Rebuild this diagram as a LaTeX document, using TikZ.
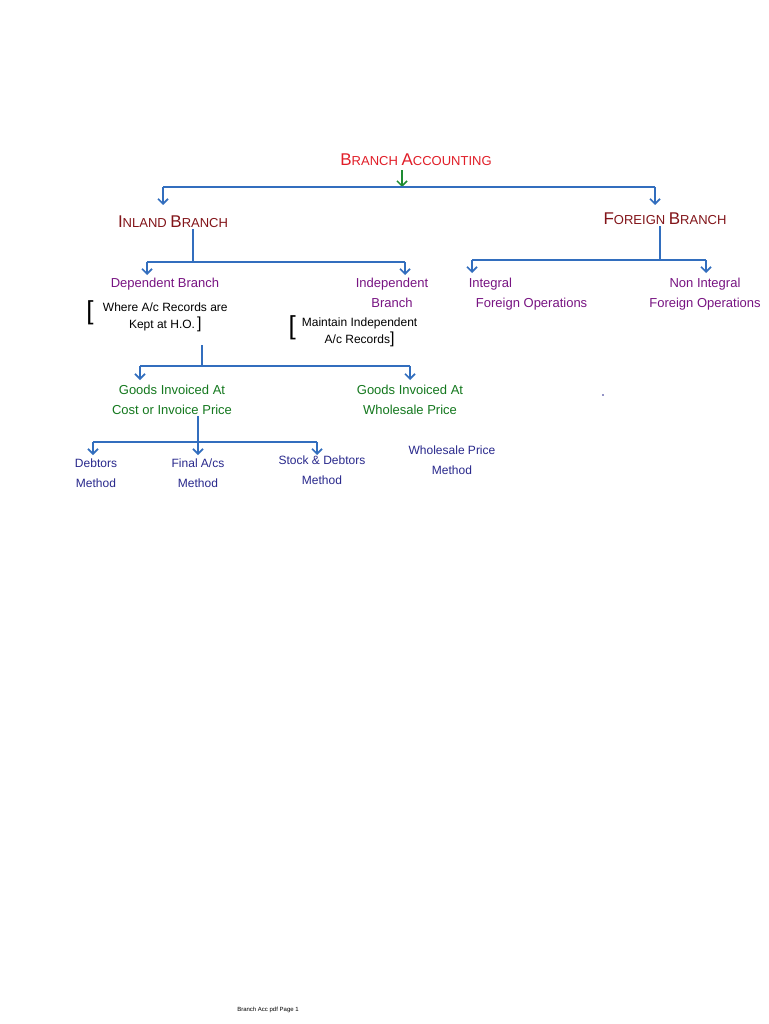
\documentclass[tikz,border=0pt]{standalone}
\usepackage{fontspec}
\setmainfont{Liberation Sans}
\usetikzlibrary{arrows.meta}
\newcommand{\mysc}[2]{{\fontsize{17}{18}\selectfont #1}{\fontsize{13}{15}\selectfont #2}}
\begin{document}
\begin{tikzpicture}[x=1pt,y=-1pt,
  txt/.style={align=center,font=\fontsize{13}{20}\selectfont,inner sep=1pt},
  small/.style={txt,font=\fontsize{12}{20}\selectfont},
  conn/.style={draw={rgb,255:red,50;green,110;blue,190},line width=1.7pt},
  arr/.style={conn,-{Straight Barb[length=5pt,width=10pt]}}]
\definecolor{cred}{RGB}{225,30,40}
\definecolor{dred}{RGB}{130,20,25}
\definecolor{purp}{RGB}{120,20,130}
\definecolor{grn}{RGB}{20,120,30}
\definecolor{navy}{RGB}{40,40,140}
\useasboundingbox (0,0) rectangle (768,1024);
\fill[white] (0,0) rectangle (768,1024);
% nodes
\node[txt,text=cred] (ba) at (416,160) {\mysc{B}{RANCH} \mysc{A}{CCOUNTING}};
\node[txt,text=dred] (ib) at (173,222) {\mysc{I}{NLAND} \mysc{B}{RANCH}};
\node[txt,text=dred] (fb) at (665,219) {\mysc{F}{OREIGN} \mysc{B}{RANCH}};
\node[txt,text=purp] (db) at (165,284) {Dependent Branch};
\node[small,text=black] (dbn) at (160,316) {{\fontsize{26}{26}\selectfont[}\ \begin{tabular}{c}Where A/c Records are\\[-3pt] Kept at H.O.\,{\fontsize{16}{16}\selectfont]}\end{tabular}};
\node[txt,text=purp] (idb) at (392,293) {Independent\\ Branch};
\node[small,text=black] (idbn) at (356,331) {{\fontsize{26}{26}\selectfont[}\begin{tabular}{c}Maintain Independent\\[-3pt] A/c Records{\fontsize{16}{16}\selectfont]}\end{tabular}};
\node[txt,text=purp,align=left] (ifo) at (528,294) {Integral\\ \ \ Foreign Operations};
\node[txt,text=purp] (nifo) at (705,294) {Non Integral\\ Foreign Operations};
\node[txt,text=grn] (gc) at (172,400) {Goods Invoiced At\\ Cost or Invoice Price};
\node[txt,text=grn] (gw) at (410,400) {Goods Invoiced At\\ Wholesale Price};
\node[small,text=navy] (dm) at (96,473) {Debtors\\ Method};
\node[small,text=navy] (fm) at (198,473) {Final A/cs\\ Method};
\node[small,text=navy] (sm) at (322,470) {Stock \& Debtors\\ Method};
\node[small,text=navy] (wm) at (452,460) {Wholesale Price\\ Method};
\node[font=\fontsize{6}{7}\selectfont] (foot) at (268,1010) {Branch Acc pdf Page 1};
\fill[navy] (603,395) circle (0.8);
% junction coordinates
\coordinate (j0l) at (163,187); \coordinate (j0r) at (655,187);
\coordinate (j1) at (193,248); \coordinate (j1l) at (147,262); \coordinate (j1r) at (405,262);
\coordinate (j2) at (660,245); \coordinate (j2l) at (472,260); \coordinate (j2r) at (706,260);
\coordinate (j3) at (202,345); \coordinate (j3l) at (140,366); \coordinate (j3r) at (410,366);
\coordinate (j4) at (198,428); \coordinate (j4l) at (93,442); \coordinate (j4r) at (317,442);
% connectors
\draw[draw={rgb,255:red,30;green,140;blue,50},line width=1.5pt,-{Straight Barb[length=5pt,width=10pt]}] (ba.south) ++(-14,3) coordinate (g0) -- (g0 |- j0l);
\draw[conn] (j0l) -- (j0r);
\draw[arr] (j0l) -- ++(0,18);
\draw[arr] (j0r) -- ++(0,18);
\draw[conn] (j1 |- ib.south) -- (j1 |- j1l);
\draw[conn] (j1l) -- (j1r);
\draw[arr] (j1l) -- ++(0,13);
\draw[arr] (j1r) -- ++(0,13);
\draw[conn] (j2 |- fb.south) -- (j2 |- j2l);
\draw[conn] (j2l) -- (j2r);
\draw[arr] (j2l) -- ++(0,13);
\draw[arr] (j2r) -- ++(0,13);
\draw[conn] (j3) -- (j3 |- j3l);
\draw[conn] (j3l) -- (j3r);
\draw[arr] (j3l) -- ++(0,14);
\draw[arr] (j3r) -- ++(0,14);
\draw[conn] (j4 |- gc.south) -- (j4 |- j4l);
\draw[conn] (j4l) -- (j4r);
\draw[arr] (j4l) -- ++(0,13);
\draw[arr] (j4 |- j4l) -- ++(0,13);
\draw[arr] (j4r) -- ++(0,13);
\end{tikzpicture}
\end{document}
